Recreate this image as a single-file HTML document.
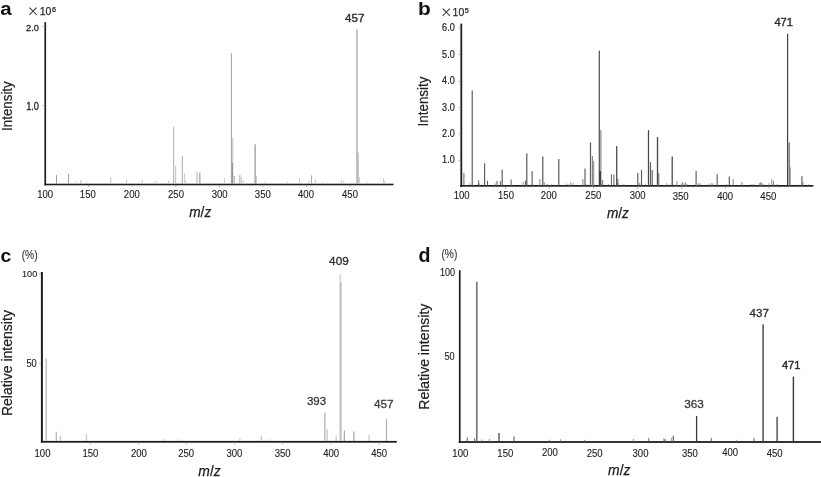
<!DOCTYPE html>
<html><head><meta charset="utf-8"><title>Mass spectra</title>
<style>
html,body{margin:0;padding:0;background:#fff;}
body{width:821px;height:477px;overflow:hidden;}
svg{display:block;font-family:"Liberation Sans", Arial, sans-serif;}
</style></head>
<body>
<svg width="821" height="477" viewBox="0 0 821 477">
<rect x="0" y="0" width="821" height="477" fill="#ffffff"/>
<text x="0.3" y="14.9" font-size="18.7" text-anchor="start" font-weight="bold" textLength="11.4" lengthAdjust="spacingAndGlyphs" fill="#111">a</text>
<text x="26.8" y="15.4" font-size="10.5" fill="#2a2a2a" stroke="#2a2a2a" stroke-width="0.25"><tspan font-family="IPAGothic, 'Noto Sans CJK JP', sans-serif" font-size="12.5" dy="0.9" stroke-width="0">×</tspan><tspan dx="0.4" dy="-0.9">10</tspan><tspan font-size="7.3" dy="-3.0" dx="0.5">6</tspan></text>
<text x="39" y="30.5" font-size="9.6" text-anchor="end" textLength="12.9" lengthAdjust="spacingAndGlyphs" stroke="#222" stroke-width="0.3" fill="#222">2.0</text>
<text x="39" y="109.7" font-size="10" text-anchor="end" textLength="12.8" lengthAdjust="spacingAndGlyphs" stroke="#222" stroke-width="0.3" fill="#222">1.0</text>
<text transform="translate(11.8,106.1) rotate(-90)" font-size="14" text-anchor="middle" textLength="49.6" lengthAdjust="spacingAndGlyphs" fill="#222" stroke="#222" stroke-width="0.2">Intensity</text>
<rect x="44.40" y="22.20" width="1.70" height="163.10" fill="#1e1e1e"/>
<rect x="44.40" y="183.70" width="349.10" height="1.60" fill="#1e1e1e"/>
<text x="45.2" y="198.4" font-size="10.2" text-anchor="middle" textLength="15.9" lengthAdjust="spacingAndGlyphs" stroke="#222" stroke-width="0.12" fill="#222">100</text>
<text x="87.8" y="198.4" font-size="10.2" text-anchor="middle" textLength="15.9" lengthAdjust="spacingAndGlyphs" stroke="#222" stroke-width="0.12" fill="#222">150</text>
<text x="131.8" y="198.4" font-size="10.2" text-anchor="middle" textLength="15.9" lengthAdjust="spacingAndGlyphs" stroke="#222" stroke-width="0.12" fill="#222">200</text>
<text x="176" y="198.4" font-size="10.2" text-anchor="middle" textLength="15.9" lengthAdjust="spacingAndGlyphs" stroke="#222" stroke-width="0.12" fill="#222">250</text>
<text x="219.7" y="198.4" font-size="10.2" text-anchor="middle" textLength="15.9" lengthAdjust="spacingAndGlyphs" stroke="#222" stroke-width="0.12" fill="#222">300</text>
<text x="262.8" y="198.4" font-size="10.2" text-anchor="middle" textLength="15.9" lengthAdjust="spacingAndGlyphs" stroke="#222" stroke-width="0.12" fill="#222">350</text>
<text x="306" y="198.4" font-size="10.2" text-anchor="middle" textLength="15.9" lengthAdjust="spacingAndGlyphs" stroke="#222" stroke-width="0.12" fill="#222">400</text>
<text x="350" y="198.4" font-size="10.2" text-anchor="middle" textLength="15.9" lengthAdjust="spacingAndGlyphs" stroke="#222" stroke-width="0.12" fill="#222">450</text>
<text x="200.2" y="216.9" font-size="14.5" text-anchor="middle" font-style="italic" textLength="22" lengthAdjust="spacingAndGlyphs" fill="#1c1c1c" stroke="#1c1c1c" stroke-width="0.25">m<tspan font-style="normal">/</tspan>z</text>
<text x="354.7" y="22.3" font-size="11.6" text-anchor="middle" textLength="19.2" lengthAdjust="spacingAndGlyphs" stroke="#2c2c2c" stroke-width="0.4" fill="#2c2c2c">457</text>
<rect x="56.00" y="175.10" width="0.80" height="8.90" fill="#858585"/>
<rect x="67.94" y="174.00" width="1.12" height="10.00" fill="#a6a6a6"/>
<rect x="75.30" y="181.30" width="0.80" height="2.70" fill="#bebebe"/>
<rect x="80.60" y="180.20" width="0.80" height="3.80" fill="#a6a6a6"/>
<rect x="86.10" y="181.90" width="0.80" height="2.10" fill="#bebebe"/>
<rect x="110.32" y="176.90" width="0.96" height="7.10" fill="#bebebe"/>
<rect x="126.20" y="179.30" width="0.80" height="4.70" fill="#bebebe"/>
<rect x="141.80" y="179.30" width="0.80" height="4.70" fill="#bebebe"/>
<rect x="153.60" y="181.30" width="0.80" height="2.70" fill="#bebebe"/>
<rect x="155.80" y="181.30" width="0.80" height="2.70" fill="#bebebe"/>
<rect x="168.30" y="180.60" width="0.80" height="3.40" fill="#bebebe"/>
<rect x="173.22" y="127.10" width="0.96" height="56.90" fill="#a6a6a6"/>
<rect x="175.22" y="165.90" width="0.96" height="18.10" fill="#bebebe"/>
<rect x="181.82" y="156.00" width="0.96" height="28.00" fill="#a6a6a6"/>
<rect x="183.90" y="173.10" width="0.80" height="10.90" fill="#bebebe"/>
<rect x="185.40" y="180.60" width="0.80" height="3.40" fill="#bebebe"/>
<rect x="196.52" y="172.00" width="0.96" height="12.00" fill="#a6a6a6"/>
<rect x="199.16" y="172.50" width="1.28" height="11.50" fill="#a6a6a6"/>
<rect x="208.40" y="182.50" width="0.80" height="1.50" fill="#bebebe"/>
<rect x="223.90" y="177.80" width="0.80" height="6.20" fill="#bebebe"/>
<rect x="230.88" y="53.20" width="1.04" height="130.80" fill="#a6a6a6"/>
<rect x="232.32" y="137.80" width="0.96" height="46.20" fill="#bebebe"/>
<rect x="231.82" y="163.00" width="0.96" height="21.00" fill="#858585"/>
<rect x="233.82" y="176.00" width="0.96" height="8.00" fill="#a6a6a6"/>
<rect x="239.42" y="174.80" width="0.96" height="9.20" fill="#a6a6a6"/>
<rect x="241.10" y="177.10" width="0.80" height="6.90" fill="#bebebe"/>
<rect x="242.70" y="180.10" width="0.80" height="3.90" fill="#bebebe"/>
<rect x="254.58" y="144.30" width="1.04" height="39.70" fill="#858585"/>
<rect x="255.80" y="176.00" width="0.80" height="8.00" fill="#a6a6a6"/>
<rect x="264.40" y="181.70" width="0.80" height="2.30" fill="#bebebe"/>
<rect x="286.90" y="181.70" width="0.80" height="2.30" fill="#bebebe"/>
<rect x="299.20" y="178.30" width="0.80" height="5.70" fill="#bebebe"/>
<rect x="308.60" y="180.50" width="0.80" height="3.50" fill="#bebebe"/>
<rect x="310.92" y="175.30" width="0.96" height="8.70" fill="#a6a6a6"/>
<rect x="314.90" y="179.40" width="0.80" height="4.60" fill="#bebebe"/>
<rect x="322.30" y="182.00" width="0.80" height="2.00" fill="#bebebe"/>
<rect x="341.00" y="180.00" width="0.80" height="4.00" fill="#bebebe"/>
<rect x="343.40" y="180.60" width="0.80" height="3.40" fill="#bebebe"/>
<rect x="356.36" y="29.40" width="1.28" height="154.60" fill="#a6a6a6"/>
<rect x="357.62" y="152.80" width="0.96" height="31.20" fill="#a6a6a6"/>
<rect x="358.90" y="177.00" width="0.80" height="7.00" fill="#bebebe"/>
<rect x="367.00" y="182.30" width="0.80" height="1.70" fill="#bebebe"/>
<rect x="383.20" y="178.30" width="0.80" height="5.70" fill="#bebebe"/>
<rect x="384.40" y="180.60" width="0.80" height="3.40" fill="#bebebe"/>
<text x="418.1" y="15" font-size="18.7" text-anchor="start" font-weight="bold" textLength="12.7" lengthAdjust="spacingAndGlyphs" fill="#111">b</text>
<text x="440.0" y="15.9" font-size="10.5" fill="#2a2a2a" stroke="#2a2a2a" stroke-width="0.25"><tspan font-family="IPAGothic, 'Noto Sans CJK JP', sans-serif" font-size="12.5" dy="1.3" stroke-width="0">×</tspan><tspan dx="0.1" dy="-1.3">10</tspan><tspan font-size="7.3" dy="-3.0" dx="0.5">5</tspan></text>
<text x="454.7" y="30.7" font-size="10" text-anchor="end" textLength="12.6" lengthAdjust="spacingAndGlyphs" stroke="#222" stroke-width="0.2" fill="#222">6.0</text>
<text x="454.7" y="57.7" font-size="10" text-anchor="end" textLength="12.6" lengthAdjust="spacingAndGlyphs" stroke="#222" stroke-width="0.2" fill="#222">5.0</text>
<text x="454.7" y="84.3" font-size="10" text-anchor="end" textLength="12.6" lengthAdjust="spacingAndGlyphs" stroke="#222" stroke-width="0.2" fill="#222">4.0</text>
<text x="454.7" y="110.8" font-size="10" text-anchor="end" textLength="12.6" lengthAdjust="spacingAndGlyphs" stroke="#222" stroke-width="0.2" fill="#222">3.0</text>
<text x="454.7" y="137.1" font-size="10" text-anchor="end" textLength="12.6" lengthAdjust="spacingAndGlyphs" stroke="#222" stroke-width="0.2" fill="#222">2.0</text>
<text x="454.7" y="163.2" font-size="10" text-anchor="end" textLength="12.6" lengthAdjust="spacingAndGlyphs" stroke="#222" stroke-width="0.2" fill="#222">1.0</text>
<text transform="translate(428.2,101.5) rotate(-90)" font-size="14" text-anchor="middle" textLength="49.8" lengthAdjust="spacingAndGlyphs" fill="#222" stroke="#222" stroke-width="0.2">Intensity</text>
<rect x="460.40" y="23.60" width="1.80" height="163.30" fill="#1e1e1e"/>
<rect x="460.10" y="185.00" width="353.20" height="1.70" fill="#1e1e1e"/>
<text x="461.6" y="198.5" font-size="10.2" text-anchor="middle" textLength="15.9" lengthAdjust="spacingAndGlyphs" stroke="#222" stroke-width="0.12" fill="#222">100</text>
<text x="506" y="198.5" font-size="10.2" text-anchor="middle" textLength="15.9" lengthAdjust="spacingAndGlyphs" stroke="#222" stroke-width="0.12" fill="#222">150</text>
<text x="548.8" y="198.5" font-size="10.2" text-anchor="middle" textLength="15.9" lengthAdjust="spacingAndGlyphs" stroke="#222" stroke-width="0.12" fill="#222">200</text>
<text x="593.3" y="198.9" font-size="10.2" text-anchor="middle" textLength="15.9" lengthAdjust="spacingAndGlyphs" stroke="#222" stroke-width="0.12" fill="#222">250</text>
<text x="637.6" y="199.0" font-size="10.2" text-anchor="middle" textLength="15.9" lengthAdjust="spacingAndGlyphs" stroke="#222" stroke-width="0.12" fill="#222">300</text>
<text x="680.6" y="199.8" font-size="10.2" text-anchor="middle" textLength="15.9" lengthAdjust="spacingAndGlyphs" stroke="#222" stroke-width="0.12" fill="#222">350</text>
<text x="725.1" y="199.8" font-size="10.2" text-anchor="middle" textLength="15.9" lengthAdjust="spacingAndGlyphs" stroke="#222" stroke-width="0.12" fill="#222">400</text>
<text x="768.3" y="199.8" font-size="10.2" text-anchor="middle" textLength="15.9" lengthAdjust="spacingAndGlyphs" stroke="#222" stroke-width="0.12" fill="#222">450</text>
<text x="617.9" y="217.8" font-size="14.5" text-anchor="middle" font-style="italic" textLength="22" lengthAdjust="spacingAndGlyphs" fill="#1c1c1c" stroke="#1c1c1c" stroke-width="0.25">m<tspan font-style="normal">/</tspan>z</text>
<text x="783.7" y="26.1" font-size="11.6" text-anchor="middle" textLength="18.5" lengthAdjust="spacingAndGlyphs" stroke="#2c2c2c" stroke-width="0.4" fill="#2c2c2c">471</text>
<rect x="463.42" y="173.00" width="0.95" height="12.50" fill="#5c5c5c"/>
<rect x="471.68" y="90.50" width="1.04" height="95.00" fill="#464646"/>
<rect x="478.12" y="180.40" width="0.95" height="5.10" fill="#5c5c5c"/>
<rect x="484.03" y="163.30" width="1.14" height="22.20" fill="#5c5c5c"/>
<rect x="487.02" y="180.90" width="0.95" height="4.60" fill="#5c5c5c"/>
<rect x="496.52" y="180.90" width="0.95" height="4.60" fill="#5c5c5c"/>
<rect x="499.92" y="181.00" width="0.95" height="4.50" fill="#5c5c5c"/>
<rect x="501.63" y="169.60" width="1.14" height="15.90" fill="#5c5c5c"/>
<rect x="510.58" y="179.60" width="1.04" height="5.90" fill="#5c5c5c"/>
<rect x="522.73" y="182.00" width="0.95" height="3.50" fill="#828282"/>
<rect x="525.02" y="180.50" width="0.95" height="5.00" fill="#5c5c5c"/>
<rect x="526.18" y="153.40" width="1.23" height="32.10" fill="#5c5c5c"/>
<rect x="531.53" y="171.20" width="1.14" height="14.30" fill="#5c5c5c"/>
<rect x="539.42" y="179.00" width="0.95" height="6.50" fill="#828282"/>
<rect x="542.18" y="156.50" width="1.23" height="29.00" fill="#5c5c5c"/>
<rect x="543.73" y="182.00" width="0.95" height="3.50" fill="#828282"/>
<rect x="558.18" y="159.10" width="1.23" height="26.40" fill="#5c5c5c"/>
<rect x="570.42" y="182.20" width="0.95" height="3.30" fill="#828282"/>
<rect x="582.42" y="179.00" width="0.95" height="6.50" fill="#828282"/>
<rect x="584.43" y="168.60" width="1.14" height="16.90" fill="#5c5c5c"/>
<rect x="589.88" y="142.40" width="1.23" height="43.10" fill="#5c5c5c"/>
<rect x="591.83" y="156.00" width="1.14" height="29.50" fill="#828282"/>
<rect x="593.23" y="161.00" width="0.95" height="24.50" fill="#828282"/>
<rect x="598.73" y="50.60" width="1.14" height="134.90" fill="#464646"/>
<rect x="600.33" y="130.00" width="1.14" height="55.50" fill="#828282"/>
<rect x="599.34" y="171.00" width="1.52" height="14.50" fill="#333"/>
<rect x="602.23" y="180.00" width="0.95" height="5.50" fill="#5c5c5c"/>
<rect x="610.92" y="174.30" width="0.95" height="11.20" fill="#5c5c5c"/>
<rect x="613.42" y="174.30" width="0.95" height="11.20" fill="#5c5c5c"/>
<rect x="616.08" y="146.10" width="1.23" height="39.40" fill="#464646"/>
<rect x="617.42" y="178.50" width="0.95" height="7.00" fill="#5c5c5c"/>
<rect x="637.23" y="172.90" width="1.14" height="12.60" fill="#5c5c5c"/>
<rect x="640.93" y="170.00" width="1.14" height="15.50" fill="#5c5c5c"/>
<rect x="647.88" y="130.10" width="1.23" height="55.40" fill="#464646"/>
<rect x="649.93" y="162.20" width="1.14" height="23.30" fill="#5c5c5c"/>
<rect x="651.63" y="170.00" width="1.14" height="15.50" fill="#5c5c5c"/>
<rect x="656.84" y="137.10" width="1.33" height="48.40" fill="#464646"/>
<rect x="658.32" y="172.90" width="0.95" height="12.60" fill="#5c5c5c"/>
<rect x="671.58" y="156.50" width="1.23" height="29.00" fill="#464646"/>
<rect x="676.42" y="181.30" width="0.95" height="4.20" fill="#828282"/>
<rect x="681.82" y="182.00" width="0.95" height="3.50" fill="#828282"/>
<rect x="684.92" y="182.50" width="0.95" height="3.00" fill="#828282"/>
<rect x="695.53" y="170.90" width="1.14" height="14.60" fill="#5c5c5c"/>
<rect x="716.63" y="174.30" width="1.14" height="11.20" fill="#5c5c5c"/>
<rect x="728.73" y="176.50" width="1.14" height="9.00" fill="#5c5c5c"/>
<rect x="732.73" y="179.00" width="0.95" height="6.50" fill="#828282"/>
<rect x="741.42" y="182.00" width="0.95" height="3.50" fill="#828282"/>
<rect x="760.62" y="182.00" width="0.95" height="3.50" fill="#828282"/>
<rect x="771.32" y="179.30" width="0.95" height="6.20" fill="#828282"/>
<rect x="773.02" y="181.00" width="0.95" height="4.50" fill="#828282"/>
<rect x="786.98" y="33.80" width="1.23" height="151.70" fill="#464646"/>
<rect x="788.63" y="142.50" width="1.14" height="43.00" fill="#5c5c5c"/>
<rect x="789.73" y="167.20" width="0.95" height="18.30" fill="#828282"/>
<rect x="801.33" y="176.20" width="1.14" height="9.30" fill="#5c5c5c"/>
<rect x="802.52" y="182.00" width="0.95" height="3.50" fill="#828282"/>
<rect x="458.20" y="27.45" width="2.30" height="0.70" fill="#a0a0a0"/>
<rect x="458.20" y="54.25" width="2.30" height="0.70" fill="#a0a0a0"/>
<rect x="458.20" y="80.85" width="2.30" height="0.70" fill="#a0a0a0"/>
<rect x="458.20" y="107.35" width="2.30" height="0.70" fill="#a0a0a0"/>
<rect x="458.20" y="133.65" width="2.30" height="0.70" fill="#a0a0a0"/>
<rect x="458.20" y="159.85" width="2.30" height="0.70" fill="#a0a0a0"/>
<rect x="42.00" y="26.05" width="2.20" height="0.70" fill="#b8b8b8"/>
<rect x="42.00" y="105.35" width="2.20" height="0.70" fill="#b8b8b8"/>
<rect x="88.00" y="185.30" width="0.80" height="1.80" fill="#a0a0a0"/>
<rect x="131.60" y="185.30" width="0.80" height="1.80" fill="#a0a0a0"/>
<rect x="175.40" y="185.30" width="0.80" height="1.80" fill="#a0a0a0"/>
<rect x="219.20" y="185.30" width="0.80" height="1.80" fill="#a0a0a0"/>
<rect x="262.60" y="185.30" width="0.80" height="1.80" fill="#a0a0a0"/>
<rect x="306.20" y="185.30" width="0.80" height="1.80" fill="#a0a0a0"/>
<rect x="349.80" y="185.30" width="0.80" height="1.80" fill="#a0a0a0"/>
<rect x="505.00" y="186.70" width="0.80" height="1.80" fill="#909090"/>
<rect x="548.80" y="186.70" width="0.80" height="1.80" fill="#909090"/>
<rect x="593.00" y="186.70" width="0.80" height="1.80" fill="#909090"/>
<rect x="637.00" y="186.70" width="0.80" height="1.80" fill="#909090"/>
<rect x="680.80" y="186.70" width="0.80" height="1.80" fill="#909090"/>
<rect x="724.80" y="186.70" width="0.80" height="1.80" fill="#909090"/>
<rect x="768.60" y="186.70" width="0.80" height="1.80" fill="#909090"/>
<rect x="546.70" y="184.00" width="0.80" height="1.40" fill="#8a8a8a"/>
<rect x="592.23" y="183.87" width="0.80" height="1.53" fill="#8a8a8a"/>
<rect x="680.47" y="185.06" width="0.80" height="0.34" fill="#8a8a8a"/>
<rect x="469.14" y="183.36" width="0.80" height="2.04" fill="#8a8a8a"/>
<rect x="554.08" y="184.68" width="0.80" height="0.72" fill="#8a8a8a"/>
<rect x="808.10" y="184.17" width="0.80" height="1.23" fill="#8a8a8a"/>
<rect x="753.18" y="184.15" width="0.80" height="1.25" fill="#8a8a8a"/>
<rect x="685.08" y="184.87" width="0.80" height="0.53" fill="#8a8a8a"/>
<rect x="683.63" y="183.29" width="0.80" height="2.11" fill="#8a8a8a"/>
<rect x="645.10" y="183.57" width="0.80" height="1.83" fill="#8a8a8a"/>
<rect x="696.24" y="185.06" width="0.80" height="0.34" fill="#8a8a8a"/>
<rect x="726.19" y="183.90" width="0.80" height="1.50" fill="#8a8a8a"/>
<rect x="568.54" y="185.13" width="0.80" height="0.27" fill="#8a8a8a"/>
<rect x="763.21" y="184.16" width="0.80" height="1.24" fill="#8a8a8a"/>
<rect x="712.59" y="183.27" width="0.80" height="2.13" fill="#8a8a8a"/>
<rect x="710.97" y="183.17" width="0.80" height="2.23" fill="#8a8a8a"/>
<rect x="600.86" y="183.44" width="0.80" height="1.96" fill="#8a8a8a"/>
<rect x="617.99" y="183.14" width="0.80" height="2.26" fill="#8a8a8a"/>
<rect x="767.81" y="184.99" width="0.80" height="0.41" fill="#8a8a8a"/>
<rect x="511.51" y="184.72" width="0.80" height="0.68" fill="#8a8a8a"/>
<rect x="797.69" y="184.24" width="0.80" height="1.16" fill="#8a8a8a"/>
<rect x="680.79" y="184.54" width="0.80" height="0.86" fill="#8a8a8a"/>
<rect x="639.60" y="184.35" width="0.80" height="1.05" fill="#8a8a8a"/>
<rect x="585.66" y="183.91" width="0.80" height="1.49" fill="#8a8a8a"/>
<rect x="666.17" y="183.21" width="0.80" height="2.19" fill="#8a8a8a"/>
<rect x="699.88" y="183.16" width="0.80" height="2.24" fill="#8a8a8a"/>
<rect x="760.06" y="183.02" width="0.80" height="2.38" fill="#8a8a8a"/>
<rect x="696.19" y="184.84" width="0.80" height="0.56" fill="#8a8a8a"/>
<rect x="761.52" y="183.08" width="0.80" height="2.32" fill="#8a8a8a"/>
<rect x="776.72" y="183.95" width="0.80" height="1.45" fill="#8a8a8a"/>
<rect x="710.87" y="184.74" width="0.80" height="0.66" fill="#8a8a8a"/>
<rect x="751.50" y="183.94" width="0.80" height="1.46" fill="#8a8a8a"/>
<rect x="562.91" y="185.06" width="0.80" height="0.34" fill="#8a8a8a"/>
<rect x="759.21" y="183.02" width="0.80" height="2.38" fill="#8a8a8a"/>
<rect x="495.14" y="183.44" width="0.80" height="1.96" fill="#8a8a8a"/>
<rect x="606.21" y="184.87" width="0.80" height="0.53" fill="#8a8a8a"/>
<rect x="565.99" y="183.51" width="0.80" height="1.89" fill="#8a8a8a"/>
<rect x="765.70" y="185.10" width="0.80" height="0.30" fill="#8a8a8a"/>
<rect x="676.61" y="185.10" width="0.80" height="0.30" fill="#8a8a8a"/>
<rect x="712.46" y="184.47" width="0.80" height="0.93" fill="#8a8a8a"/>
<rect x="768.51" y="183.04" width="0.80" height="2.36" fill="#8a8a8a"/>
<rect x="638.97" y="183.00" width="0.80" height="2.40" fill="#8a8a8a"/>
<rect x="571.44" y="185.03" width="0.80" height="0.37" fill="#8a8a8a"/>
<rect x="671.52" y="185.13" width="0.80" height="0.27" fill="#8a8a8a"/>
<rect x="532.70" y="184.30" width="0.80" height="1.10" fill="#8a8a8a"/>
<rect x="675.21" y="184.86" width="0.80" height="0.54" fill="#8a8a8a"/>
<rect x="479.24" y="183.29" width="0.80" height="2.11" fill="#8a8a8a"/>
<rect x="572.87" y="183.09" width="0.80" height="2.31" fill="#8a8a8a"/>
<rect x="773.95" y="184.37" width="0.80" height="1.03" fill="#8a8a8a"/>
<rect x="623.44" y="184.06" width="0.80" height="1.34" fill="#8a8a8a"/>
<rect x="686.74" y="183.89" width="0.80" height="1.51" fill="#8a8a8a"/>
<rect x="657.55" y="183.84" width="0.80" height="1.56" fill="#8a8a8a"/>
<rect x="789.11" y="184.08" width="0.80" height="1.32" fill="#8a8a8a"/>
<rect x="613.36" y="183.62" width="0.80" height="1.78" fill="#8a8a8a"/>
<rect x="546.58" y="184.54" width="0.80" height="0.86" fill="#8a8a8a"/>
<rect x="801.94" y="184.05" width="0.80" height="1.35" fill="#8a8a8a"/>
<rect x="653.81" y="185.17" width="0.80" height="0.23" fill="#8a8a8a"/>
<rect x="607.85" y="183.92" width="0.80" height="1.48" fill="#8a8a8a"/>
<rect x="471.52" y="183.85" width="0.80" height="1.55" fill="#8a8a8a"/>
<rect x="682.70" y="185.07" width="0.80" height="0.33" fill="#8a8a8a"/>
<rect x="681.03" y="184.17" width="0.80" height="1.23" fill="#8a8a8a"/>
<rect x="698.95" y="184.42" width="0.80" height="0.98" fill="#8a8a8a"/>
<rect x="708.50" y="183.58" width="0.80" height="1.82" fill="#8a8a8a"/>
<rect x="472.25" y="185.07" width="0.80" height="0.33" fill="#8a8a8a"/>
<rect x="697.83" y="183.08" width="0.80" height="2.32" fill="#8a8a8a"/>
<rect x="551.24" y="184.20" width="0.80" height="1.20" fill="#8a8a8a"/>
<rect x="669.07" y="184.50" width="0.80" height="0.90" fill="#8a8a8a"/>
<rect x="590.16" y="184.51" width="0.80" height="0.89" fill="#8a8a8a"/>
<rect x="591.96" y="183.89" width="0.80" height="1.51" fill="#8a8a8a"/>
<rect x="568.24" y="184.37" width="0.80" height="1.03" fill="#8a8a8a"/>
<text x="0.5" y="262.2" font-size="18.5" text-anchor="start" font-weight="bold" textLength="10.8" lengthAdjust="spacingAndGlyphs" fill="#111">c</text>
<text x="29.6" y="258.9" font-size="12.6" text-anchor="middle" textLength="15.9" lengthAdjust="spacingAndGlyphs" stroke="#333" stroke-width="0.1" fill="#333">(%)</text>
<text x="37.2" y="277" font-size="9.8" text-anchor="end" textLength="15.1" lengthAdjust="spacingAndGlyphs" stroke="#222" stroke-width="0.12" fill="#222">100</text>
<text x="36.8" y="366.8" font-size="10.6" text-anchor="end" textLength="10.4" lengthAdjust="spacingAndGlyphs" stroke="#222" stroke-width="0.12" fill="#222">50</text>
<rect x="39.00" y="273.40" width="2.00" height="0.70" fill="#999"/>
<rect x="39.00" y="363.30" width="2.00" height="0.70" fill="#aaa"/>
<text transform="translate(11.9,363.1) rotate(-90)" font-size="14.2" text-anchor="middle" textLength="106" lengthAdjust="spacingAndGlyphs" fill="#222" stroke="#222" stroke-width="0.2">Relative intensity</text>
<rect x="40.90" y="272.00" width="2.00" height="170.40" fill="#1e1e1e"/>
<rect x="40.90" y="440.90" width="355.90" height="1.80" fill="#1e1e1e"/>
<text x="42.5" y="456.7" font-size="10.2" text-anchor="middle" textLength="15.9" lengthAdjust="spacingAndGlyphs" stroke="#222" stroke-width="0.12" fill="#222">100</text>
<text x="90.4" y="456.7" font-size="10.2" text-anchor="middle" textLength="15.9" lengthAdjust="spacingAndGlyphs" stroke="#222" stroke-width="0.12" fill="#222">150</text>
<text x="138.9" y="456.7" font-size="10.2" text-anchor="middle" textLength="15.9" lengthAdjust="spacingAndGlyphs" stroke="#222" stroke-width="0.12" fill="#222">200</text>
<text x="186.2" y="456.7" font-size="10.2" text-anchor="middle" textLength="15.9" lengthAdjust="spacingAndGlyphs" stroke="#222" stroke-width="0.12" fill="#222">250</text>
<text x="234.4" y="456.7" font-size="10.2" text-anchor="middle" textLength="15.9" lengthAdjust="spacingAndGlyphs" stroke="#222" stroke-width="0.12" fill="#222">300</text>
<text x="282.7" y="456.7" font-size="10.2" text-anchor="middle" textLength="15.9" lengthAdjust="spacingAndGlyphs" stroke="#222" stroke-width="0.12" fill="#222">350</text>
<text x="331.1" y="456.7" font-size="10.2" text-anchor="middle" textLength="15.9" lengthAdjust="spacingAndGlyphs" stroke="#222" stroke-width="0.12" fill="#222">400</text>
<text x="379.2" y="456.7" font-size="10.2" text-anchor="middle" textLength="15.9" lengthAdjust="spacingAndGlyphs" stroke="#222" stroke-width="0.12" fill="#222">450</text>
<text x="209.5" y="476" font-size="14.5" text-anchor="middle" font-style="italic" textLength="22.4" lengthAdjust="spacingAndGlyphs" fill="#1c1c1c" stroke="#1c1c1c" stroke-width="0.25">m<tspan font-style="normal">/</tspan>z</text>
<text x="338.9" y="264.6" font-size="11.6" text-anchor="middle" textLength="19.6" lengthAdjust="spacingAndGlyphs" stroke="#2c2c2c" stroke-width="0.3" fill="#2c2c2c">409</text>
<text x="316.5" y="404.6" font-size="11.6" text-anchor="middle" textLength="19.2" lengthAdjust="spacingAndGlyphs" stroke="#3a3a3a" stroke-width="0.3" fill="#3a3a3a">393</text>
<text x="383.7" y="408.0" font-size="11.6" text-anchor="middle" textLength="19.6" lengthAdjust="spacingAndGlyphs" stroke="#3a3a3a" stroke-width="0.3" fill="#3a3a3a">457</text>
<rect x="45.35" y="358.30" width="1.70" height="82.70" fill="#c6c6c6"/>
<rect x="55.70" y="431.70" width="1.20" height="9.30" fill="#b2b2b2"/>
<rect x="59.70" y="435.70" width="1.20" height="5.30" fill="#c6c6c6"/>
<rect x="85.90" y="433.80" width="1.20" height="7.20" fill="#c6c6c6"/>
<rect x="163.80" y="439.00" width="1.00" height="2.00" fill="#c6c6c6"/>
<rect x="177.70" y="439.30" width="1.00" height="1.70" fill="#c6c6c6"/>
<rect x="239.40" y="437.90" width="1.00" height="3.10" fill="#c6c6c6"/>
<rect x="260.70" y="435.70" width="1.20" height="5.30" fill="#c6c6c6"/>
<rect x="269.00" y="439.30" width="1.00" height="1.70" fill="#c6c6c6"/>
<rect x="324.25" y="412.60" width="1.30" height="28.40" fill="#b2b2b2"/>
<rect x="326.60" y="429.50" width="1.20" height="11.50" fill="#c6c6c6"/>
<rect x="335.60" y="435.70" width="1.20" height="5.30" fill="#c6c6c6"/>
<rect x="339.50" y="274.20" width="1.00" height="166.80" fill="#c4c4c4"/>
<rect x="340.45" y="274.20" width="0.90" height="166.80" fill="#dcdcdc"/>
<rect x="340.45" y="282.50" width="0.90" height="158.50" fill="#a2a2a2"/>
<rect x="343.75" y="430.60" width="1.10" height="10.40" fill="#9a9a9a"/>
<rect x="353.35" y="431.40" width="1.10" height="9.60" fill="#9a9a9a"/>
<rect x="368.50" y="435.10" width="1.20" height="5.90" fill="#c6c6c6"/>
<rect x="385.85" y="419.30" width="1.30" height="21.70" fill="#b2b2b2"/>
<rect x="90.00" y="442.30" width="0.80" height="2.20" fill="#aaa"/>
<rect x="138.50" y="442.30" width="0.80" height="2.20" fill="#aaa"/>
<rect x="186.00" y="442.30" width="0.80" height="2.20" fill="#aaa"/>
<rect x="233.90" y="442.30" width="0.80" height="2.20" fill="#aaa"/>
<rect x="282.30" y="442.30" width="0.80" height="2.20" fill="#aaa"/>
<rect x="330.70" y="442.30" width="0.80" height="2.20" fill="#aaa"/>
<rect x="378.80" y="442.30" width="0.80" height="2.20" fill="#aaa"/>
<text x="418.6" y="262.1" font-size="19.6" text-anchor="start" font-weight="bold" textLength="12" lengthAdjust="spacingAndGlyphs" fill="#111">d</text>
<text x="449.4" y="258.3" font-size="12.6" text-anchor="middle" textLength="15.9" lengthAdjust="spacingAndGlyphs" stroke="#333" stroke-width="0.1" fill="#333">(%)</text>
<text x="455" y="276.4" font-size="10.3" text-anchor="end" textLength="15.1" lengthAdjust="spacingAndGlyphs" stroke="#222" stroke-width="0.12" fill="#222">100</text>
<text x="454.5" y="360.1" font-size="10" text-anchor="end" textLength="10.1" lengthAdjust="spacingAndGlyphs" stroke="#222" stroke-width="0.12" fill="#222">50</text>
<text transform="translate(429.4,356.7) rotate(-90)" font-size="14.4" text-anchor="middle" textLength="106" lengthAdjust="spacingAndGlyphs" fill="#222" stroke="#222" stroke-width="0.2">Relative intensity</text>
<rect x="458.90" y="270.20" width="1.70" height="172.60" fill="#1e1e1e"/>
<rect x="458.70" y="441.10" width="362.30" height="1.80" fill="#1e1e1e"/>
<text x="460.3" y="456.6" font-size="10.2" text-anchor="middle" textLength="15.9" lengthAdjust="spacingAndGlyphs" stroke="#222" stroke-width="0.12" fill="#222">100</text>
<text x="505.3" y="456.8" font-size="10.2" text-anchor="middle" textLength="15.9" lengthAdjust="spacingAndGlyphs" stroke="#222" stroke-width="0.12" fill="#222">150</text>
<text x="549.9" y="455.8" font-size="10.2" text-anchor="middle" textLength="15.9" lengthAdjust="spacingAndGlyphs" stroke="#222" stroke-width="0.12" fill="#222">200</text>
<text x="594.6" y="456.6" font-size="10.2" text-anchor="middle" textLength="15.9" lengthAdjust="spacingAndGlyphs" stroke="#222" stroke-width="0.12" fill="#222">250</text>
<text x="640.5" y="456.8" font-size="10.2" text-anchor="middle" textLength="15.9" lengthAdjust="spacingAndGlyphs" stroke="#222" stroke-width="0.12" fill="#222">300</text>
<text x="689.9" y="456.8" font-size="10.2" text-anchor="middle" textLength="15.9" lengthAdjust="spacingAndGlyphs" stroke="#222" stroke-width="0.12" fill="#222">350</text>
<text x="730.1" y="455.6" font-size="10.2" text-anchor="middle" textLength="15.9" lengthAdjust="spacingAndGlyphs" stroke="#222" stroke-width="0.12" fill="#222">400</text>
<text x="774.6" y="456.8" font-size="10.2" text-anchor="middle" textLength="15.9" lengthAdjust="spacingAndGlyphs" stroke="#222" stroke-width="0.12" fill="#222">450</text>
<text x="619.3" y="474.6" font-size="14.5" text-anchor="middle" font-style="italic" textLength="22.4" lengthAdjust="spacingAndGlyphs" fill="#1c1c1c" stroke="#1c1c1c" stroke-width="0.25">m<tspan font-style="normal">/</tspan>z</text>
<text x="759.3" y="316.8" font-size="11.6" text-anchor="middle" textLength="19.4" lengthAdjust="spacingAndGlyphs" stroke="#2c2c2c" stroke-width="0.3" fill="#2c2c2c">437</text>
<text x="694.1" y="408.3" font-size="11.6" text-anchor="middle" textLength="19.6" lengthAdjust="spacingAndGlyphs" stroke="#3a3a3a" stroke-width="0.3" fill="#3a3a3a">363</text>
<text x="791.2" y="369.4" font-size="11.6" text-anchor="middle" textLength="18.5" lengthAdjust="spacingAndGlyphs" stroke="#2c2c2c" stroke-width="0.45" fill="#2c2c2c">471</text>
<rect x="466.80" y="437.50" width="1.00" height="3.80" fill="#666"/>
<rect x="474.20" y="438.30" width="1.00" height="3.00" fill="#666"/>
<rect x="475.95" y="281.70" width="1.70" height="159.60" fill="#7a7a7a"/>
<rect x="481.30" y="439.50" width="1.00" height="1.80" fill="#909090"/>
<rect x="489.10" y="439.00" width="1.00" height="2.30" fill="#909090"/>
<rect x="498.40" y="433.00" width="1.20" height="8.30" fill="#3c3c3c"/>
<rect x="513.40" y="436.40" width="1.20" height="4.90" fill="#666"/>
<rect x="548.90" y="439.60" width="1.00" height="1.70" fill="#909090"/>
<rect x="559.90" y="439.20" width="1.00" height="2.10" fill="#909090"/>
<rect x="584.00" y="439.80" width="1.00" height="1.50" fill="#909090"/>
<rect x="633.10" y="439.00" width="1.00" height="2.30" fill="#909090"/>
<rect x="648.30" y="437.90" width="1.00" height="3.40" fill="#666"/>
<rect x="663.50" y="438.50" width="1.00" height="2.80" fill="#666"/>
<rect x="664.70" y="439.30" width="1.00" height="2.00" fill="#666"/>
<rect x="671.10" y="437.90" width="1.00" height="3.40" fill="#909090"/>
<rect x="672.70" y="435.70" width="1.20" height="5.60" fill="#666"/>
<rect x="695.95" y="416.00" width="1.30" height="25.30" fill="#3c3c3c"/>
<rect x="710.80" y="437.90" width="1.00" height="3.40" fill="#666"/>
<rect x="735.80" y="439.80" width="1.00" height="1.50" fill="#909090"/>
<rect x="753.50" y="437.90" width="1.00" height="3.40" fill="#666"/>
<rect x="762.30" y="324.30" width="1.60" height="117.00" fill="#5a5a5a"/>
<rect x="776.45" y="416.80" width="1.30" height="24.50" fill="#3c3c3c"/>
<rect x="792.70" y="376.60" width="1.40" height="64.70" fill="#3c3c3c"/>
</svg>
</body></html>
